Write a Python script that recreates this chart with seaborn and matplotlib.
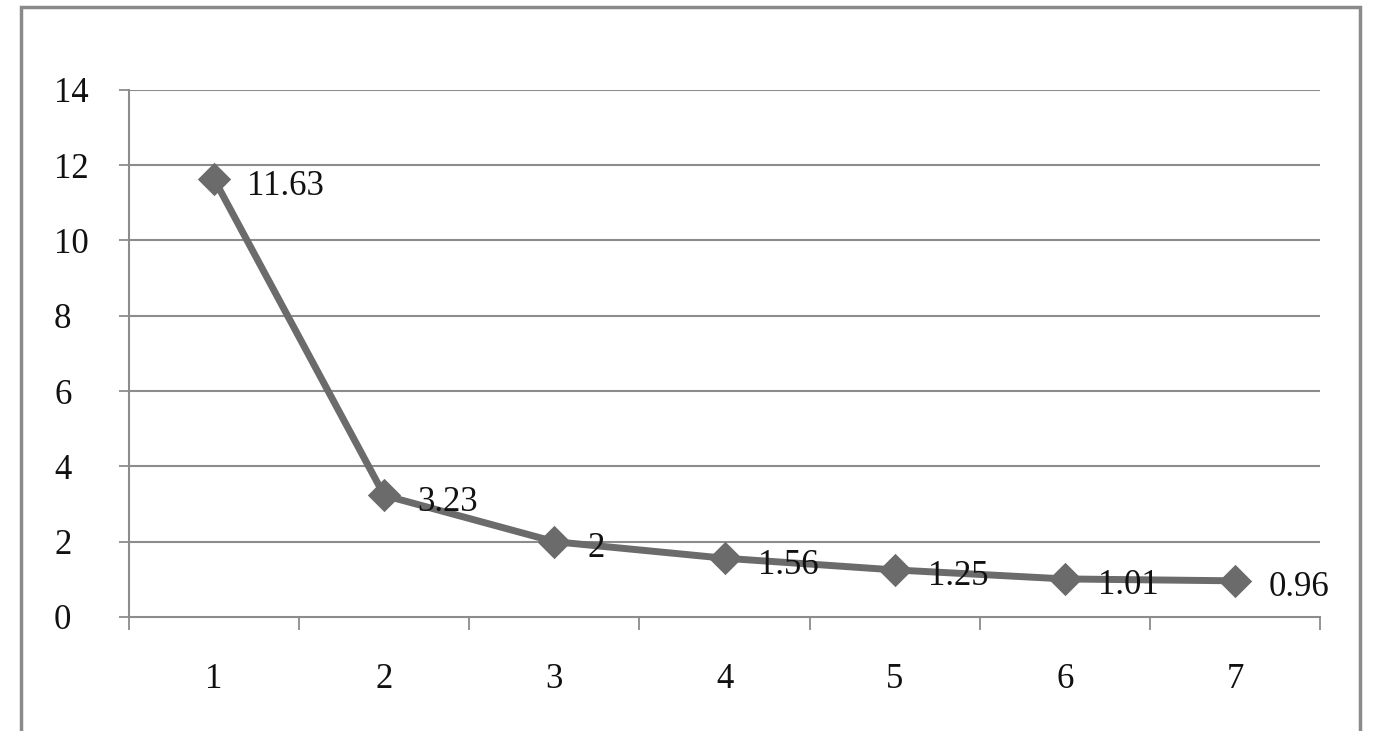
import matplotlib
matplotlib.use('Agg')
import matplotlib.pyplot as plt
import seaborn as sns
import pandas as pd
import numpy as np
from matplotlib.patches import Rectangle

categories = ['1', '2', '3', '4', '5', '6', '7']
values = [11.63, 3.23, 2, 1.56, 1.25, 1.01, 0.96]
labels = ['11.63', '3.23', '2', '1.56', '1.25', '1.01', '0.96']
yticks = [0, 2, 4, 6, 8, 10, 12, 14]

sns.set_style('white')
plt.rcParams['font.family'] = ['Liberation Serif', 'DejaVu Serif']

df = pd.DataFrame({'cat': categories, 'val': values})

fig = plt.figure(figsize=(13.77, 7.31), dpi=100)
ax = fig.add_axes([0.0937, 0.156, 0.865, 0.721])

line_color = '#6b6b6b'
grid_color = '#8c8c8c'
fs = 25

sns.pointplot(data=df, x='cat', y='val', ax=ax, color=line_color,
              markers='D', markersize=13, linewidth=5, errorbar=None)

for i, (v, lab) in enumerate(zip(values, labels)):
    ax.annotate(lab, (i, v), xytext=(24, -5), textcoords='offset points',
                ha='left', va='center', fontsize=fs, color='#111111')

ax.set_ylim(0, 14)
ax.set_xlim(-0.5, 6.5)
ax.set_yticks(yticks)
ax.set_yticklabels([str(t) for t in yticks], fontsize=fs, color='#111111')
ax.set_xticks(range(len(categories)))
ax.set_xticklabels(categories, fontsize=fs, color='#111111')
ax.set_xticks(np.arange(-0.5, 7, 1), minor=True)
ax.tick_params(axis='x', which='major', bottom=False, length=0, pad=33)
ax.tick_params(axis='x', which='minor', bottom=True, length=9, width=1.3,
               color=grid_color, direction='out')
ax.tick_params(axis='y', which='major', left=True, length=7, width=1.3,
               color=grid_color, direction='out', pad=47)
for t in ax.get_yticklabels():
    t.set_horizontalalignment('left')

ax.set_xlabel('')
ax.set_ylabel('')
for t in yticks[1:]:
    ax.axhline(t, color=grid_color, linewidth=1.5, zorder=0)

for s in ['top', 'right']:
    ax.spines[s].set_visible(False)
for s in ['left', 'bottom']:
    ax.spines[s].set_color(grid_color)
    ax.spines[s].set_linewidth(1.5)

fig.patches.append(Rectangle((21 / 1377, -0.05), (1360 - 21) / 1377, 1 - 7 / 731 + 0.05,
                             transform=fig.transFigure, fill=False,
                             edgecolor='#8a8a8a', linewidth=2.5))

fig.savefig('out.png', dpi=100)
